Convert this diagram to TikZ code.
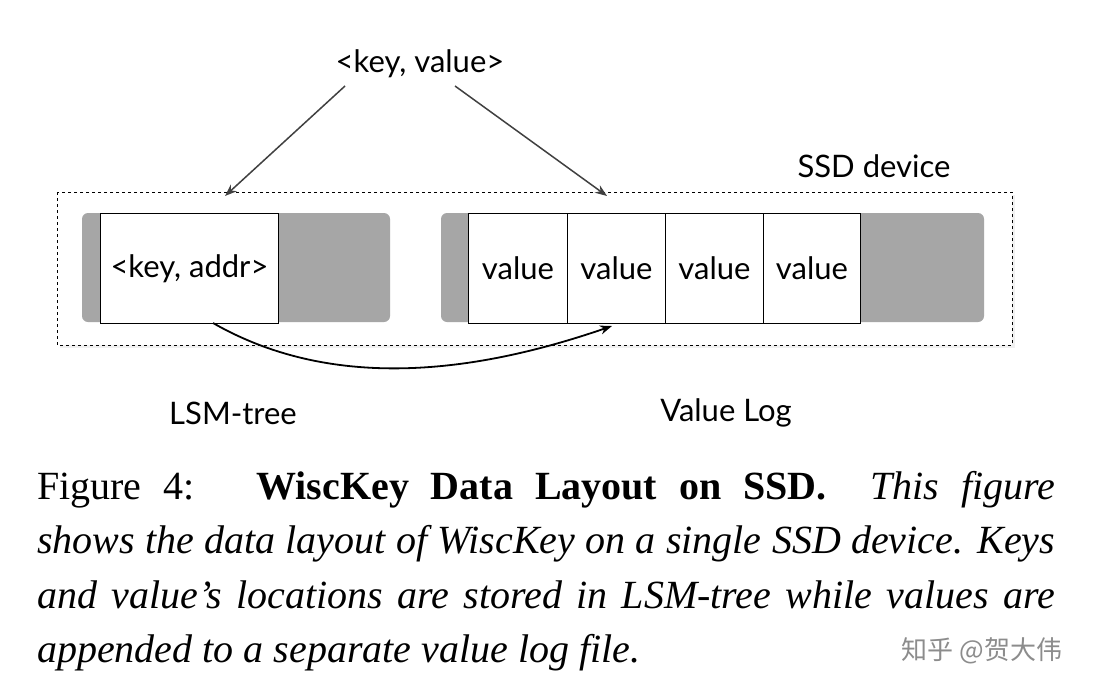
\documentclass[tikz,border=0pt]{standalone}
\usepackage{fontspec}
\setmainfont{Liberation Serif}
\newfontfamily\gill{Lato}
\newfontfamily\cjk{Noto Sans CJK SC}
\usetikzlibrary{arrows.meta}
\begin{document}
\begin{tikzpicture}[x=1pt,y=-1pt,
  lbl/.style={font=\gill\fontsize{31}{34}\selectfont},
  cell/.style={draw=black,fill=white,line width=1pt,inner sep=0pt,anchor=north west},
  arr/.style={-{Stealth[length=12pt,width=9pt]},line width=1.5pt,draw=black!75}]
\useasboundingbox (0,0) rectangle (1114,696);
\node[lbl] (kv) at (420,64) {<key, value>};
\coordinate (a1) at (345,86);
\coordinate (a2) at (455,86);
\coordinate (t1) at (225,196);
\coordinate (t2) at (607,196);
\fill[black!6] (60,195) rectangle (1015,348);
\draw[dashed,fill=white,line width=0.7pt] (57,192) rectangle (1012,345);
\node[lbl] (ssd) at (874,166) {SSD device};
\fill[black!35,rounded corners=6pt] (82,213) rectangle (390,322);
\fill[black!35,rounded corners=6pt] (441,213) rectangle (984,322);
\node[cell,minimum width=178pt,minimum height=110pt,lbl] (ka) at (100,213) {<key, addr>};
\node[cell,minimum width=99pt,minimum height=110pt,lbl] (v1) at (468,213) {value};
\node[cell,minimum width=98pt,minimum height=110pt,lbl] (v2) at (567,213) {value};
\node[cell,minimum width=98pt,minimum height=110pt,lbl] (v3) at (665,213) {value};
\node[cell,minimum width=97pt,minimum height=110pt,lbl] (v4) at (763,213) {value};
\draw[arr] (a1) -- (t1);
\draw[arr] (a2) -- (t2);
\coordinate (c1) at (213,323);
\coordinate (c2) at (612,326);
\draw[arr,draw=black,line width=1.8pt] (c1) .. controls (330,390) and (470,375) .. (c2);
\node[lbl] (lsm) at (233,413) {LSM-tree};
\node[lbl] (vl) at (726,413) {Value Log};
\node[anchor=north west,inner sep=0pt,text width=1018pt,align=justify,font=\fontsize{40}{54.5}\selectfont] (cap) at (37,471)
{Figure 4:\quad\ \textbf{WiscKey Data Layout on SSD.}\ \ \textit{This figure\linebreak shows the data layout of WiscKey on a single SSD device. Keys\linebreak and value's locations are stored in LSM-tree while values are\linebreak appended to a separate value log file.}};
\node[font=\cjk\fontsize{26}{28}\selectfont,text=black!45] (wm) at (982,651) {知乎 @贺大伟};
\end{tikzpicture}
\end{document}
